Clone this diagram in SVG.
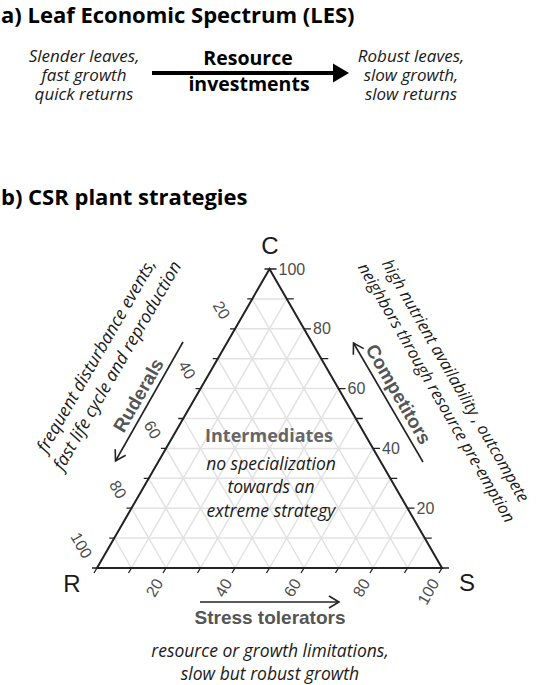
<svg xmlns="http://www.w3.org/2000/svg" width="536" height="685" viewBox="0 0 536 685">
<defs>
<style>
.title{font-family:"Open Sans","Liberation Sans",sans-serif;font-weight:bold;font-size:22px;fill:#000}
.it{font-family:"Open Sans","Liberation Sans",sans-serif;font-style:italic;font-size:17.5px;fill:#1a1a1a}
.bold{font-family:"Open Sans","Liberation Sans",sans-serif;font-weight:bold;font-size:19.5px;fill:#000}
.lab{font-family:"Liberation Sans",Arial,sans-serif;font-weight:bold;font-size:19px;fill:#555}
.num{font-family:"Liberation Sans",Arial,sans-serif;font-size:16px;fill:#4d4d4d}
.vtx{font-family:"Liberation Sans",Arial,sans-serif;font-size:24px;fill:#1a1a1a}
.grid{stroke:#e2e2e2;stroke-width:1.5;fill:none}
.axis{stroke:#222;stroke-width:2;fill:none}
.tick{stroke:#222;stroke-width:1.3;fill:none}
.arr{stroke:#222;stroke-width:1.6;fill:none}
</style>
<marker id="open" markerUnits="userSpaceOnUse" viewBox="-12 -8 14 16" refX="0" refY="0" markerWidth="14" markerHeight="16" orient="auto">
<path d="M-10,-6 L0,0 L-10,6" stroke="#222" stroke-width="1.6" fill="none"/>
</marker>
</defs>
<rect width="536" height="685" fill="#fff"/>

<g id="title-a"><text class="title" x="1" y="23">a) Leaf Economic Spectrum (LES)</text></g>
<g id="les-left" class="it" text-anchor="middle" style="font-size:17px">
<text x="84" y="62">Slender leaves,</text>
<text x="84" y="81">fast growth</text>
<text x="84" y="100">quick returns</text>
</g>
<g id="les-right" class="it" text-anchor="middle" style="font-size:17px">
<text x="411" y="62">Robust leaves,</text>
<text x="411" y="81">slow growth,</text>
<text x="411" y="100">slow returns</text>
</g>
<g id="les-arrow-label" class="bold" text-anchor="middle">
<text x="248" y="65">Resource</text>
<text x="249" y="91">investments</text>
</g>

<g id="title-b"><text class="title" x="1" y="205">b) CSR plant strategies</text></g>

<g id="ternary">
<path class="grid" d="M114.25,538.1H424.75M131.5,508.2H407.5M148.75,478.3H390.25M166,448.4H373M183.25,418.5H355.75M200.5,388.6H338.5M217.75,358.7H321.25M235,328.8H304M252.25,298.9H286.75
M131.5,568L286.75,298.9M166,568L304,328.8M200.5,568L321.25,358.7M235,568L338.5,388.6M269.5,568L355.75,418.5M304,568L373,448.4M338.5,568L390.25,478.3M373,568L407.5,508.2M407.5,568L424.75,538.1
M407.5,568L252.25,298.9M373,568L235,328.8M338.5,568L217.75,358.7M304,568L200.5,388.6M269.5,568L183.25,418.5M235,568L166,448.4M200.5,568L148.75,478.3M166,568L131.5,508.2M131.5,568L114.25,538.1"/>
<path class="axis" d="M97,568L442,568L269.5,269Z"/>
<path class="tick" d="M269.5,269h-5M252.25,298.9h-5M235,328.8h-5M217.75,358.7h-5M200.5,388.6h-5M183.25,418.5h-5M166,448.4h-5M148.75,478.3h-5M131.5,508.2h-5M114.25,538.1h-5M97,568h-5
M97,568l-3,5M131.5,568l-3,5M166,568l-3,5M200.5,568l-3,5M235,568l-3,5M269.5,568l-3,5M304,568l-3,5M338.5,568l-3,5M373,568l-3,5M407.5,568l-3,5M442,568l-3,5
M442,568h7M424.75,538.1h7M407.5,508.2h7M390.25,478.3h7M373,448.4h7M355.75,418.5h7M338.5,388.6h7M321.25,358.7h7M304,328.8h7M286.75,298.9h7M269.5,269h7"/>
<g class="num" text-anchor="end" dominant-baseline="central">
<text transform="translate(226,317.8) rotate(60)">20</text>
<text transform="translate(191.5,377.6) rotate(60)">40</text>
<text transform="translate(157,437.4) rotate(60)">60</text>
<text transform="translate(122.5,497.2) rotate(60)">80</text>
<text transform="translate(88,557) rotate(60)">100</text>
<text transform="translate(159,580) rotate(-60)">20</text>
<text transform="translate(228,580) rotate(-60)">40</text>
<text transform="translate(297,580) rotate(-60)">60</text>
<text transform="translate(366,580) rotate(-60)">80</text>
<text transform="translate(435,580) rotate(-60)">100</text>
</g>
<g class="num" dominant-baseline="central">
<text x="416.5" y="508.2">20</text>
<text x="382" y="448.4">40</text>
<text x="347.5" y="388.6">60</text>
<text x="313" y="328.8">80</text>
<text x="278.5" y="269">100</text>
</g>
</g>

<g id="vertex-C"><text class="vtx" x="270" y="254" text-anchor="middle">C</text></g>
<g id="vertex-R"><text class="vtx" x="72" y="592" text-anchor="middle">R</text></g>
<g id="vertex-S"><text class="vtx" x="467" y="591" text-anchor="middle">S</text></g>

<g id="intermediates" text-anchor="middle">
<text class="lab" x="269" y="442" style="font-family:'Open Sans','Liberation Sans',sans-serif;font-size:18px;fill:#666">Intermediates</text>
<text class="it" x="271" y="470">no specialization</text>
<text class="it" x="271" y="493">towards an</text>
<text class="it" x="271" y="517">extreme strategy</text>
</g>

<g id="ruderals">
<text class="lab" text-anchor="middle" transform="translate(138,395) rotate(-60)" y="7">Ruderals</text>
<g class="it" text-anchor="middle">
<text transform="translate(97,356) rotate(-60)" y="5">frequent disturbance events,</text>
<text transform="translate(118,366) rotate(-60)" y="5">fast life cycle and reproduction</text>
</g>
</g>

<g id="competitors">
<text class="lab" text-anchor="middle" transform="translate(399,394) rotate(60)" y="7">Competitors</text>
<g class="it" text-anchor="middle" style="font-size:16.5px">
<text transform="translate(455,381) rotate(60)" y="5">high nutrient availability , outcompete</text>
<text transform="translate(436,393) rotate(60)" y="5">neighbors through resource pre-emption</text>
</g>
</g>

<g id="stress-tolerators" text-anchor="middle">
<text class="lab" x="270" y="624">Stress tolerators</text>
<text class="it" x="270" y="657">resource or growth limitations,</text>
<text class="it" x="270" y="680">slow but robust growth</text>
</g>

<g id="connectors">
<line x1="152" y1="73" x2="335" y2="73" stroke="#000" stroke-width="4"/>
<path d="M333,63.5L349,73L333,82.5Z" fill="#000"/>
<line class="arr" x1="183" y1="342" x2="115.5" y2="461" marker-end="url(#open)"/>
<line class="arr" x1="423" y1="462" x2="353.5" y2="343" marker-end="url(#open)"/>
<line class="arr" x1="200" y1="602" x2="339" y2="602" marker-end="url(#open)"/>
</g>
</svg>
